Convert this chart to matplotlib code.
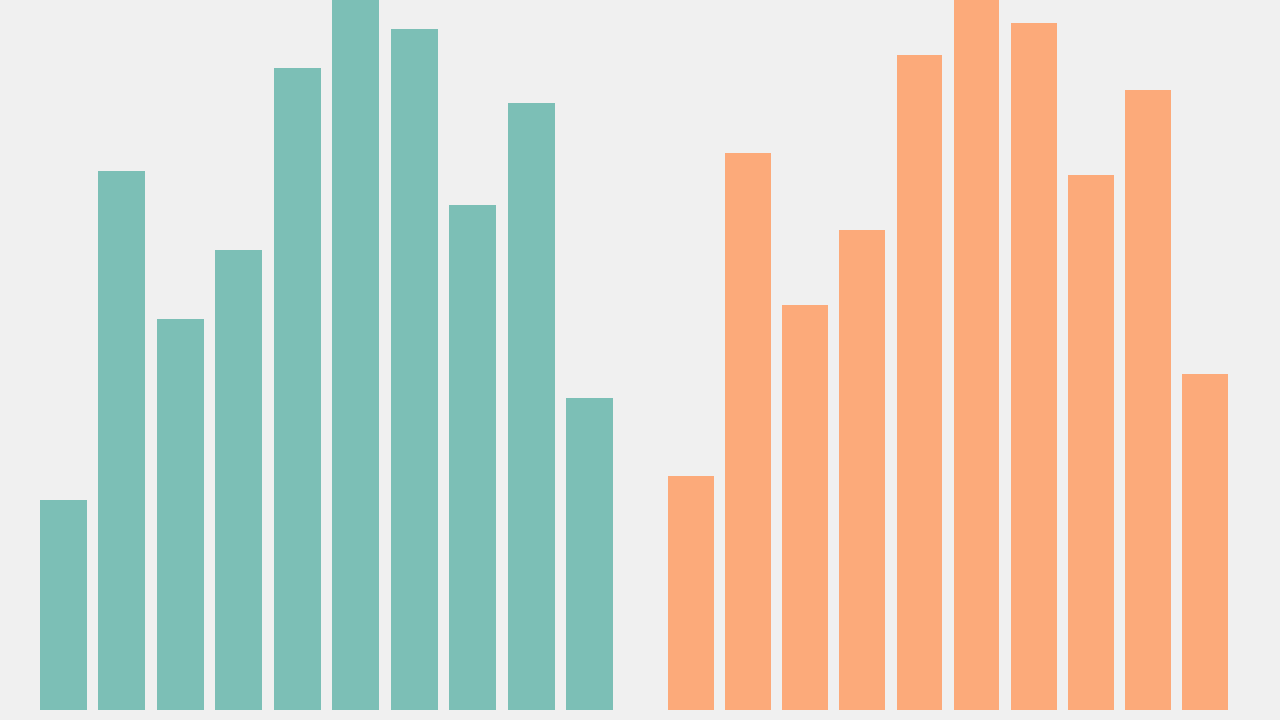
import numpy as np
import matplotlib.pyplot as plt

# bar heights (tallest bars run off the top)
left_values = [21.0, 53.9, 39.1, 46.0, 64.2, 73.0, 68.1, 50.5, 60.7, 31.2]
right_values = [23.4, 55.7, 40.5, 48.0, 65.5, 74.0, 68.7, 53.5, 62.0, 33.6]

bg = "#f0f0f0"
teal = "#7cbfb6"
orange = "#fcaa7a"

fig = plt.figure(figsize=(12.8, 7.2), dpi=100, facecolor=bg)

ax1 = fig.add_axes([40 / 1280, 10 / 720, 573 / 1280, 710 / 720], facecolor=bg)
ax2 = fig.add_axes([668 / 1280, 10 / 720, 560 / 1280, 710 / 720], facecolor=bg)

for ax, vals, col in [(ax1, left_values, teal), (ax2, right_values, orange)]:
    x = np.arange(len(vals))
    ax.bar(x, vals, width=0.8, color=col, edgecolor="none")
    ax.set_xlim(-0.4, len(vals) - 0.6)
    ax.set_ylim(0, 71)
    ax.axis("off")

fig.savefig("out.png", dpi=100, facecolor=bg)
